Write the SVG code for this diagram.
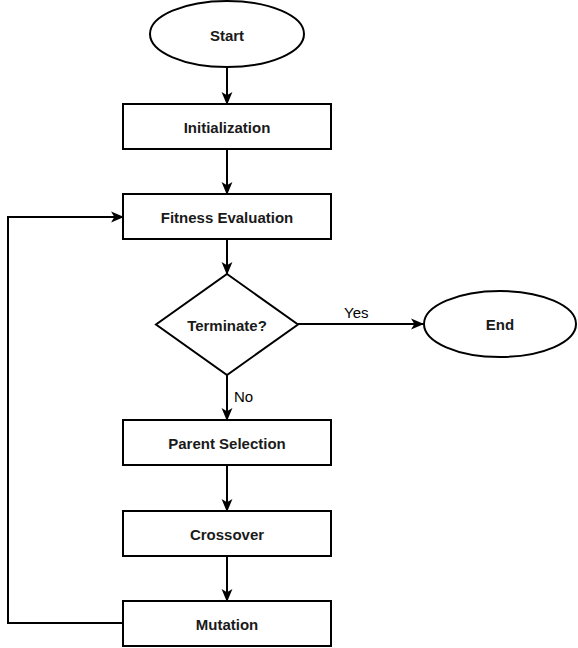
<svg xmlns="http://www.w3.org/2000/svg" width="578" height="648" viewBox="0 0 578 648">
<style>
.shape{fill:#fff;stroke:#000;stroke-width:2}
.lbl{font-family:"Liberation Sans",Arial,sans-serif;font-size:15px;font-weight:bold;fill:#1a1a1a;text-anchor:middle;dominant-baseline:central}
.edge{fill:none;stroke:#000;stroke-width:2}
.elbl{font-family:"Liberation Sans",Arial,sans-serif;font-size:15px;fill:#000}
</style>
<defs>
<marker id="arr" viewBox="0 0 12 12" refX="11" refY="6" markerWidth="13" markerHeight="13" markerUnits="userSpaceOnUse" orient="auto">
<path d="M0,1 L12,6 L0,11 L3,6 Z" fill="#000"/>
</marker>
</defs>
<rect width="578" height="648" fill="#fff"/>
<g id="connectors">
<line class="edge" x1="227" y1="67" x2="227" y2="104" marker-end="url(#arr)"/>
<line class="edge" x1="227" y1="149" x2="227" y2="194" marker-end="url(#arr)"/>
<line class="edge" x1="227" y1="239" x2="227" y2="274" marker-end="url(#arr)"/>
<line class="edge" x1="298" y1="324" x2="423" y2="324" marker-end="url(#arr)"/>
<line class="edge" x1="227" y1="375" x2="227" y2="420" marker-end="url(#arr)"/>
<line class="edge" x1="227" y1="465" x2="227" y2="511" marker-end="url(#arr)"/>
<line class="edge" x1="227" y1="556" x2="227" y2="601" marker-end="url(#arr)"/>
<polyline class="edge" points="123,623 8,623 8,217 123,217" marker-end="url(#arr)"/>
<text class="elbl" x="344" y="318">Yes</text>
<text class="elbl" x="234" y="402">No</text>
</g>
<g id="start"><ellipse class="shape" cx="227" cy="34" rx="77" ry="33"/><text class="lbl" x="227" y="35">Start</text></g>
<g id="init"><rect class="shape" x="123" y="104" width="208" height="45"/><text class="lbl" x="227" y="127">Initialization</text></g>
<g id="fitness"><rect class="shape" x="123" y="194" width="208" height="45"/><text class="lbl" x="227" y="217">Fitness Evaluation</text></g>
<g id="terminate"><polygon class="shape" points="227,274 298,324.5 227,375 156,324.5"/><text class="lbl" x="227" y="325">Terminate?</text></g>
<g id="end"><ellipse class="shape" cx="500" cy="324" rx="76" ry="33"/><text class="lbl" x="500" y="324">End</text></g>
<g id="parent"><rect class="shape" x="123" y="420" width="208" height="45"/><text class="lbl" x="227" y="443">Parent Selection</text></g>
<g id="crossover"><rect class="shape" x="123" y="511" width="208" height="45"/><text class="lbl" x="227" y="534">Crossover</text></g>
<g id="mutation"><rect class="shape" x="123" y="601" width="208" height="45"/><text class="lbl" x="227" y="624">Mutation</text></g>
</svg>
